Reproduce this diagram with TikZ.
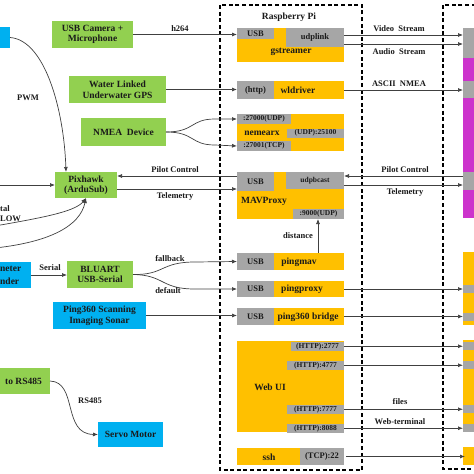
\documentclass[tikz,border=0pt]{standalone}
\usepackage{fontspec}
\setmainfont{Liberation Serif}
\usetikzlibrary{arrows.meta,calc}
\definecolor{cgreen}{HTML}{92D050}
\definecolor{cblue}{HTML}{00B0F0}
\definecolor{corange}{HTML}{FFC000}
\definecolor{cgray}{HTML}{A6A6A6}
\definecolor{cmag}{HTML}{CC33CC}
\definecolor{cline}{HTML}{404040}
\definecolor{ctext}{HTML}{1A1A1A}
\begin{document}
\begin{tikzpicture}[x=1pt,y=-1pt,
  box/.style={inner sep=0pt, outer sep=0pt, anchor=north west, align=center, text=ctext,
    font=\bfseries\fontsize{9.5}{10.5}\selectfont},
  gbox/.style={box, fill=cgreen},
  bbox/.style={box, fill=cblue},
  obox/.style={box, fill=corange},
  mbox/.style={box, fill=cmag},
  port/.style={box, fill=cgray, font=\bfseries\fontsize{7.5}{8}\selectfont},
  txt/.style={inner sep=0pt, text=ctext, font=\bfseries\fontsize{9.5}{10.5}\selectfont},
  lbl/.style={inner sep=0pt, text=ctext, font=\bfseries\fontsize{8.5}{9.5}\selectfont},
  arr/.style={draw=cline, line width=0.7pt, -{Latex[length=5pt,width=4pt]}},
  dbox/.style={draw=black, line width=1.1pt, dash pattern=on 4pt off 2.6pt}
]
\useasboundingbox (0,0) rectangle (474,474);
\clip (0,0) rectangle (474,474);

% dashed containers
\draw[dbox] (220,5) rectangle (362,470);
\node[lbl, font=\bfseries\fontsize{9.5}{10.5}\selectfont] (rpilbl) at (289,17) {Raspberry Pi};
\draw[dbox] (443,5) rectangle (520,469);

% left nodes
\node[bbox, minimum width=40pt, minimum height=21pt] (lb) at (-30,27) {};
\node[gbox, minimum width=81pt, minimum height=27pt] (cam) at (52,21) {USB Camera +\\Microphone};
\node[gbox, minimum width=97pt, minimum height=27pt] (gps) at (69,76) {Water Linked\\Underwater GPS};
\node[gbox, minimum width=85pt, minimum height=28pt] (nmea) at (81,118) {NMEA\ \ Device};
\node[gbox, minimum width=62pt, minimum height=26pt] (pix) at (55,172) {Pixhawk\\(ArduSub)};
\node[bbox, minimum width=71pt, minimum height=26pt] (alt) at (-40,262) {};
\node[txt, anchor=west] (alt1) at (0,269) {neter};
\node[txt, anchor=west] (alt2) at (0,281) {nder};
\node[gbox, minimum width=66pt, minimum height=27pt] (bluart) at (67,261) {BLUART\\USB-Serial};
\node[bbox, minimum width=93pt, minimum height=27pt] (p360) at (53,302) {Ping360 Scanning\\Imaging Sonar};
\node[gbox, minimum width=80pt, minimum height=26pt] (rs) at (-30,368) {};
\node[txt, anchor=west] (rstxt) at (5,381) {to RS485};
\node[bbox, minimum width=65pt, minimum height=25pt] (servo) at (98,422) {Servo Motor};

% Raspberry Pi blocks
\node[obox, minimum width=107pt, minimum height=34pt] (gst) at (237,28) {};
\node[port, minimum width=37pt, minimum height=11pt, font=\bfseries\fontsize{8.5}{9}\selectfont] (gstusb) at (237,28) {USB};
\node[port, minimum width=58pt, minimum height=19pt, font=\bfseries\fontsize{8.5}{9}\selectfont] (udplink) at (286,28) {udplink};
\node[txt] (gsttxt) at (291,52) {gstreamer};

\node[obox, minimum width=107pt, minimum height=18pt] (wld) at (237,81) {};
\node[port, minimum width=37pt, minimum height=18pt, font=\bfseries\fontsize{8.5}{9}\selectfont] (wldhttp) at (237,81) {(http)};
\node[txt] (wldtxt) at (298,90) {wldriver};

\node[obox, minimum width=107pt, minimum height=37pt] (nem) at (237,114) {};
\node[port, minimum width=54pt, minimum height=10pt] (n27000) at (237,114) {:27000(UDP)};
\node[port, minimum width=54pt, minimum height=10pt] (n27001) at (237,141) {:27001(TCP)};
\node[port, minimum width=57pt, minimum height=9pt] (n25100) at (287,128.5) {(UDP):25100};
\node[txt] (nemtxt) at (262,133) {nemearx};

\node[obox, minimum width=107pt, minimum height=47pt] (mav) at (237,172) {};
\node[port, minimum width=37pt, minimum height=19pt, font=\bfseries\fontsize{8.5}{9}\selectfont] (mavusb) at (237,172) {USB};
\node[port, minimum width=58pt, minimum height=17pt] (udpb) at (286,172) {udpbcast};
\node[port, minimum width=51pt, minimum height=10pt] (m9000) at (293,209) {:9000(UDP)};
\node[txt] (mavtxt) at (264,201) {MAVProxy};

\node[obox, minimum width=107pt, minimum height=17pt] (pmav) at (237,253) {};
\node[port, minimum width=37pt, minimum height=17pt, font=\bfseries\fontsize{8.5}{9}\selectfont] (pmavusb) at (237,253) {USB};
\node[txt] (pmavtxt) at (299,262) {pingmav};

\node[obox, minimum width=107pt, minimum height=16pt] (pprox) at (237,281) {};
\node[port, minimum width=37pt, minimum height=16pt, font=\bfseries\fontsize{8.5}{9}\selectfont] (pproxusb) at (237,281) {USB};
\node[txt] (pproxtxt) at (302,289) {pingproxy};

\node[obox, minimum width=107pt, minimum height=17pt] (pbr) at (237,308) {};
\node[port, minimum width=37pt, minimum height=17pt, font=\bfseries\fontsize{8.5}{9}\selectfont] (pbrusb) at (237,308) {USB};
\node[txt] (pbrtxt) at (308,317) {ping360 bridge};

\node[obox, minimum width=107pt, minimum height=91pt] (web) at (237,341) {};
\node[port, minimum width=53pt, minimum height=8.5pt] (w2777) at (291,342) {(HTTP):2777};
\node[port, minimum width=57pt, minimum height=8.5pt] (w4777) at (287,361) {(HTTP):4777};
\node[port, minimum width=57pt, minimum height=8.5pt] (w7777) at (287,405) {(HTTP):7777};
\node[port, minimum width=57pt, minimum height=8.5pt] (w8088) at (287,424) {(HTTP):8088};
\node[txt] (webtxt) at (270,387) {Web UI};

\node[obox, minimum width=107pt, minimum height=17pt] (ssh) at (237,448) {};
\node[port, minimum width=44pt, minimum height=17pt, font=\bfseries\fontsize{8.5}{9}\selectfont] (tcp) at (300,448) {(TCP):22};
\node[txt] (sshtxt) at (269,457) {ssh};

% right side (cut off)
\node[mbox, minimum width=30pt, minimum height=190pt] (mag) at (463,28) {};
\node[port, minimum width=30pt, minimum height=30pt] (r1) at (463,28) {};
\node[port, minimum width=30pt, minimum height=17pt] (r2) at (463,81) {};
\node[port, minimum width=30pt, minimum height=18pt] (r3) at (463,172) {};
\node[obox, minimum width=30pt, minimum height=73pt] (ora1) at (463,252) {};
\node[port, minimum width=30pt, minimum height=8pt] (g1) at (463,285) {};
\node[port, minimum width=30pt, minimum height=8pt] (g2) at (463,313) {};
\node[obox, minimum width=30pt, minimum height=92pt] (ora2) at (463,340) {};
\node[port, minimum width=30pt, minimum height=8pt] (g3) at (463,342) {};
\node[port, minimum width=30pt, minimum height=8pt] (g4) at (463,361) {};
\node[port, minimum width=30pt, minimum height=8pt] (g5) at (463,405) {};
\node[port, minimum width=30pt, minimum height=8pt] (g6) at (463,424) {};
\node[obox, minimum width=30pt, minimum height=18pt] (ora3) at (463,447) {};

% free ends on the left edge
\coordinate (pixin) at (-5,185);
\coordinate (c1) at (-5,226);
\coordinate (c2) at (-5,248);
\node[lbl, anchor=west] (tal) at (0,209) {tal};
\node[lbl, anchor=west] (low) at (0,219) {LOW};

% connectors
\draw[arr] (cam.east) -- (cam.east -| gstusb.west);
\node[lbl] (h264) at (180,29) {h264};
\draw[arr] (gps.east) -- (gps.east -| wldhttp.west);
\draw[arr] (nmea.east) .. controls (195,132) and (190,119) .. (215,119) -- (n27000.west);
\draw[arr] (nmea.east) .. controls (195,132) and (190,145) .. (215,145) -- (n27001.west);
\draw[arr] (lb.east) .. controls (45,40) and (64,110) .. ([xshift=11pt]pix.north west);
\node[lbl] (pwm) at (28,98) {PWM};
\draw[arr] (pixin) -- (pix.west);
\draw[arr] (c1) .. controls (40,218) and (75,212) .. ([xshift=31pt]pix.south west);
\draw[arr] (c2) .. controls (50,242) and (80,226) .. ([xshift=31pt]pix.south west);

\draw[arr] ($(mavusb.north west)+(0,4)$) -- ($(pix.north east)+(0,4)$);
\node[lbl] (pcl) at (175,170) {Pilot Control};
\draw[arr] ($(pix.north east)+(0,17)$) -- ($(mavusb.north west)+(0,17)$);
\node[lbl] (tml) at (175,196) {Telemetry};

\draw[arr] ($(r3.north west)+(0,4)$) -- ($(udpb.north east)+(0,4)$);
\node[lbl] (pcr) at (405,170) {Pilot Control};
\draw[arr] ($(udpb.north east)+(0,13)$) -- ($(r3.north west)+(0,13)$);
\node[lbl] (tmr) at (405,192) {Telemetry};

\draw[arr] ($(udplink.north east)+(0,7)$) -- ($(r1.north west)+(0,7)$);
\node[lbl] (vs) at (399,29) {Video\ \ Stream};
\draw[arr] ($(udplink.north east)+(0,16)$) -- ($(r1.north west)+(0,16)$);
\node[lbl] (as) at (399,52) {Audio\ \ Stream};
\draw[arr] (wld.east) -- (wld.east -| r2.west);
\node[lbl] (nmeal) at (399,84) {ASCII\ \ NMEA};

\draw[arr] ($(pmav.north west)+(81,0)$) -- ($(m9000.south west)+(25,0)$);
\node[lbl] (dist) at (298,236) {distance};

\draw[arr] (alt.east) -- (alt.east -| bluart.west);
\node[lbl] (serial) at (50,268) {Serial};
\draw[arr] (bluart.east) .. controls (165,275) and (160,262) .. (195,262) -- (pmavusb.west);
\draw[arr] (bluart.east) .. controls (165,275) and (160,289) .. (195,289) -- (pproxusb.west);
\node[lbl] (fb) at (170,259) {fallback};
\node[lbl] (df) at (168,291) {default};
\draw[arr] (p360.east) -- (p360.east -| pbrusb.west);

\draw[arr] (pprox.east) -- (pprox.east -| g1.west);
\draw[arr] (pbr.east) -- (pbr.east -| g2.west);
\draw[arr] (w2777.east) -- (w2777.east -| g3.west);
\draw[arr] (w4777.east) -- (w4777.east -| g4.west);
\draw[arr] (w7777.east) -- (w7777.east -| g5.west);
\node[lbl] (files) at (400,402) {files};
\draw[arr] (w8088.east) -- (w8088.east -| g6.west);
\node[lbl] (wt) at (400,422) {Web-terminal};
\draw[arr] ([xshift=2pt]tcp.east) -- ([xshift=2pt]tcp.east -| ora3.west);

\draw[arr] (rs.east) .. controls (78,382) and (62,434) .. (servo.west);
\node[lbl] (rsl) at (90,401) {RS485};
\end{tikzpicture}
\end{document}
